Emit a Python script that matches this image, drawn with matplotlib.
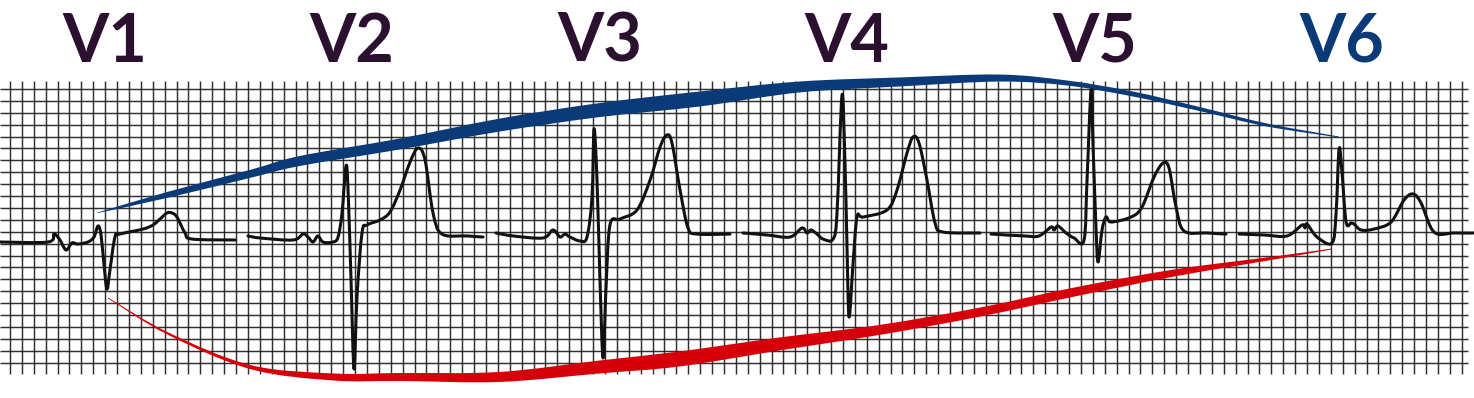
import matplotlib.pyplot as plt
import numpy as np
from matplotlib.path import Path
from matplotlib.patches import PathPatch

# all values in small ECG boxes (1 box = 1 mm = 0.04 s / 0.1 mV)
leads = ['V1', 'V2', 'V3', 'V4', 'V5', 'V6']
lead_start = [0.0, 20.8, 41.6, 62.4, 83.2, 104.0]
label_colors = ['#2b1030', '#2b1030', '#2b1030', '#2b1030', '#2b1030', '#0b3a78']

v1_t = [0, 4.03, 4.54, 5.04, 5.55, 6.05, 6.55, 7.39, 7.90, 8.24, 8.49, 8.74, 8.99,
        9.24, 9.66, 10.08, 12.02, 12.86, 13.45, 14.03, 14.45, 14.87, 15.55, 16.13, 19.75]
v1_amp = [-0.17, -0.17, 0.50, 0, -0.84, -0.25, -0.34, -0.17, 0.25, 1.18, 0.42, -2.10, -4.12,
          -2.52, 0.25, 0.50, 0.92, 1.26, 1.76, 2.27, 2.27, 1.93, 0.59, 0.08, 0]

v2_t = [0.04, 1.05, 3.82, 4.66, 5.08, 5.50, 5.92, 6.34, 7.18, 7.61, 7.94, 8.28, 8.45, 8.70,
        8.95, 9.20, 9.62, 10.04, 11.13, 11.97, 12.82, 13.66, 14.33, 14.92, 15.59, 16.34,
        18.45, 19.79]
v2_amp = [0.34, 0.17, 0, 0.50, 0.25, -0.17, 0.34, -0.17, -0.17, 0.25, 2.27, 6.22, 4.20, -3.36,
          -10.84, -4.79, 0.59, 1.26, 1.68, 2.35, 4.20, 6.55, 7.73, 6.72, 2.27, 0.50,
          0.34, 0.25]

v3_t = [0.08, 1.51, 4.03, 4.87, 5.46, 5.88, 6.30, 7.14, 7.73, 8.15, 8.32, 8.57, 8.82, 9.08,
        9.33, 9.66, 10.50, 11.93, 13.03, 13.87, 14.45, 14.87, 15.55, 16.22, 16.97, 19.75]
v3_amp = [0.59, 0.34, 0.17, 0.84, 0.25, 0.50, 0.25, -0.08, 0.25, 3.61, 9.33, 5.04, -3.36, -9.92,
          -3.95, 1.26, 1.76, 2.52, 5.04, 7.82, 8.82, 8.15, 4.20, 1.01, 0.50, 0.50]

v4_t = [0.04, 2.06, 3.99, 5.00, 5.42, 5.76, 6.26, 6.76, 7.61, 7.94, 8.36, 8.61, 8.78, 8.95,
        9.29, 9.62, 10.13, 12.14, 12.98, 13.82, 14.33, 14.83, 15.50, 16.18, 16.85, 19.96]
v4_amp = [0.59, 0.42, 0.25, 1.01, 0.59, 0.84, 0.50, 0.08, 0.08, 2.27, 12.18, 6.47, -0.59, -6.47,
          -1.93, 1.93, 1.93, 2.52, 4.20, 7.31, 8.66, 8.15, 5.04, 1.43, 0.67, 0.59]

v5_t = [0.08, 2.86, 4.12, 5.13, 5.38, 5.71, 6.39, 7.06, 7.90, 8.15, 8.49, 8.66, 8.91, 9.08,
        9.41, 9.75, 10.17, 11.85, 12.77, 13.78, 14.54, 15.04, 15.63, 16.30, 18.24, 19.83]
v5_amp = [0.50, 0.34, 0.34, 1.09, 0.84, 1.18, 0.59, 0.17, 0, 5.04, 12.61, 7.82, 0.84, -1.85,
          0.84, 1.93, 1.51, 1.93, 2.77, 5.29, 6.47, 6.05, 2.77, 0.76, 0.59, 0.50]

v6_t = [0.13, 2.23, 4.16, 5.42, 5.67, 5.84, 6.68, 7.94, 8.28, 8.53, 8.78, 9.12, 9.54, 9.79,
        10.38, 11.47, 12.90, 13.99, 14.75, 15.42, 16.51, 18.19, 19.87]
v6_amp = [0.50, 0.42, 0.34, 1.26, 1.01, 1.34, 0.25, -0.25, 2.27, 7.65, 5.63, 1.51, 1.43, 1.34,
          0.84, 0.92, 1.51, 3.36, 3.87, 3.11, 0.67, 0.59, 0.59]

traces = [(v1_t, v1_amp), (v2_t, v2_amp), (v3_t, v3_amp),
          (v4_t, v4_amp), (v5_t, v5_amp), (v6_t, v6_amp)]

# R-wave progression envelope (blue) and S-wave envelope (red)
r_env_x = [8.15, 14.03, 21.0, 25.2, 33.6, 42.0, 50.4, 58.8, 67.2, 75.6, 84.0, 89.7,
           95.2, 100.8, 106.5, 112.5]
r_env_y = [2.27, 3.78, 5.55, 6.64, 8.07, 9.66, 10.92, 11.85, 12.86, 13.28, 13.61, 13.19,
           12.27, 11.01, 9.66, 8.66]
r_env_w = [0.04, 0.5, 0.67, 0.84, 0.92, 1.09, 1.18, 1.26, 0.92, 0.76, 0.59, 0.42,
           0.42, 0.34, 0.25, 0.08]

s_env_x = [9.08, 14.03, 21.0, 28.0, 33.6, 42.0, 50.4, 57.1, 65.5, 73.9, 82.4, 90.3,
           98.7, 107.1, 111.9]
s_env_y = [-4.87, -7.82, -10.67, -11.51, -11.51, -11.51, -10.67, -10.0, -8.74, -7.56,
           -6.05, -4.37, -2.77, -1.51, -0.76]
s_env_w = [0.08, 0.21, 0.34, 0.59, 0.67, 0.84, 1.09, 1.26, 1.09, 0.84, 0.76, 0.76,
           0.59, 0.25, 0.08]


def spline_segments(pts):
    # Catmull-Rom through every point, drawn as cubic Bezier pieces
    verts, codes = [], []
    n = len(pts)
    for i in range(n - 1):
        p0 = pts[max(i - 1, 0)]
        p1 = pts[i]
        p2 = pts[i + 1]
        p3 = pts[min(i + 2, n - 1)]
        verts += [p1 + (p2 - p0) / 6, p2 - (p3 - p1) / 6, p2]
        codes += [Path.CURVE4] * 3
    return verts, codes


def smooth_line(x, y):
    pts = np.column_stack([x, y])
    verts, codes = spline_segments(pts)
    return Path([pts[0]] + verts, [Path.MOVETO] + codes)


def smooth_band(x, y, w):
    x, y, w = np.array(x), np.array(y), np.array(w)
    top = np.column_stack([x, y + w / 2])
    bot = np.column_stack([x, y - w / 2])[::-1]
    v1, c1 = spline_segments(top)
    v2, c2 = spline_segments(bot)
    verts = [top[0]] + v1 + [bot[0]] + v2 + [top[0]]
    codes = [Path.MOVETO] + c1 + [Path.LINETO] + c2 + [Path.CLOSEPOLY]
    return Path(verts, codes)


fig = plt.figure(figsize=(14.74, 3.98), dpi=100)
ax = fig.add_axes([0, 0, 1, 1])
ax.set_xlim(0, 123.87)
ax.set_ylim(-13.28, 20.17)
ax.axis('off')

# ECG paper grid
grid_x = np.arange(0.84, 123.0, 1.0)
grid_y = 12.69 - np.arange(0, 24)
ax.vlines(grid_x, -11.26, 13.36, color='#1a1a1a', lw=1.05, alpha=0.9, zorder=1)
ax.hlines(grid_y, 0, 123.4, color='#1a1a1a', lw=1.05, alpha=0.9, zorder=1)

# envelopes
ax.add_patch(PathPatch(smooth_band(r_env_x, r_env_y, r_env_w),
                       facecolor='#0b3a78', edgecolor='none', zorder=3))
ax.add_patch(PathPatch(smooth_band(s_env_x, s_env_y, s_env_w),
                       facecolor='#d6000a', edgecolor='none', zorder=3))

for name, start, (t, amp), col in zip(leads, lead_start, traces, label_colors):
    ax.add_patch(PathPatch(smooth_line(np.array(t) + start, amp), fill=False,
                           edgecolor='#111111', lw=2.2, joinstyle='round',
                           capstyle='round', zorder=4))
    ax.text(start + 8.8, 14.96, name, ha='center', va='baseline',
            fontsize=48, fontweight='bold', family=['Lato', 'DejaVu Sans'], color=col)

fig.savefig('out.png', dpi=100, facecolor='white')
